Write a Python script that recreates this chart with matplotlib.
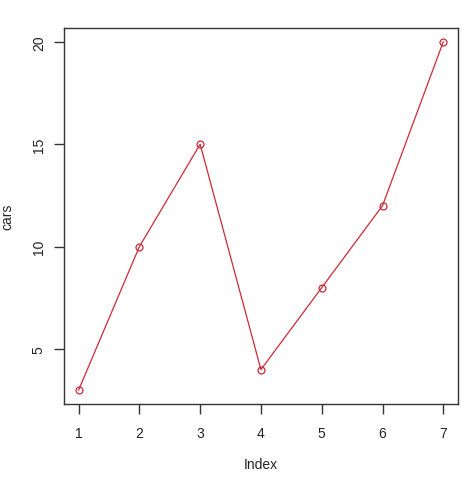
import matplotlib.pyplot as plt

plt.rcParams['font.family'] = ['Liberation Sans', 'DejaVu Sans']

index = [1, 2, 3, 4, 5, 6, 7]
cars = [3, 10, 15, 4, 8, 12, 20]
y_ticks = [5, 10, 15, 20]

fig = plt.figure(figsize=(4.74, 4.81), dpi=100)
ax = fig.add_axes([0.135, 0.158, 0.831, 0.782])

ax.plot(index, cars, color='#cc2a36', lw=0.9, marker='o', ms=5,
        mfc='none', mec='#cc2a36', mew=0.9)

ax.set_xlim(0.76, 7.24)
ax.set_ylim(2.32, 20.68)
ax.set_xticks(index)
ax.set_yticks(y_ticks)
ax.set_yticklabels([str(v) for v in y_ticks], rotation=90, va='center')

for s in ax.spines.values():
    s.set_color('#333333')
    s.set_linewidth(1.0)
ax.tick_params(length=7, width=1.0, color='#333333', labelsize=10,
               pad=6, labelcolor='#222222')
ax.tick_params(axis='x', pad=9)

ax.set_xlabel('Index', fontsize=10, labelpad=12, color='#222222')
ax.set_ylabel('cars', fontsize=10, labelpad=13, color='#222222')

fig.savefig('out.png', dpi=100)
